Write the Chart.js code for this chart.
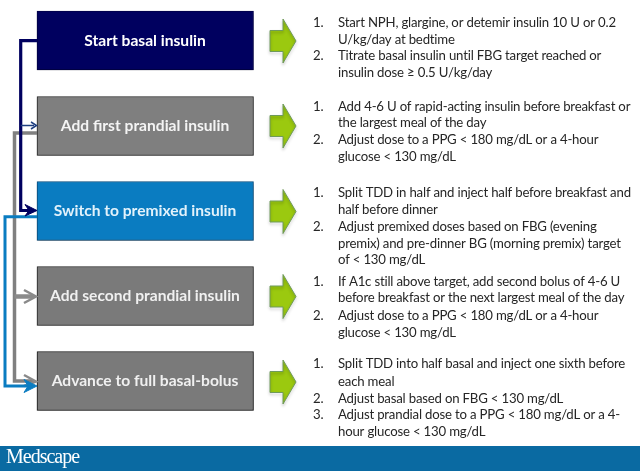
<!DOCTYPE html>
<html><head><meta charset="utf-8">
<style>html,body{margin:0;padding:0;background:#fff}canvas{display:block}</style>
<script src="https://cdn.jsdelivr.net/npm/chart.js@4"></script>
</head><body><canvas id="c" width="640" height="471"></canvas>
<script>
const steps = ["Start basal insulin","Add first prandial insulin","Switch to premixed insulin","Add second prandial insulin","Advance to full basal-bolus"];
const stepCenters = [40.5,126,211,296,381];
const stepColors = ["#00005f","#7f7f7f","#0a7cc1","#7a7a7a","#7a7a7a"];
const stepEdges = ["#000048","#2a2a2a","#0a4f80","#2a2a2a","#1a1a1a"];
const titleColors = ["#ffffff","#f4f4f4","#e2f2fb","#f0f0f0","#f0f0f0"];
const numberLabels = [
 [23,"1."],[56,"2."],[106.5,"1."],[140,"2."],[192.7,"1."],[227,"2."],[281.7,"1."],[315.7,"2."],[364,"1."],[398.3,"2."],[415,"3."]];
const noteLines = [
 [23,"Start NPH, glargine, or detemir insulin 10 U or 0.2"],
 [39.5,"U/kg/day at bedtime"],
 [56,"Titrate basal insulin until FBG target reached or"],
 [72.5,"insulin dose \u2265 0.5 U/kg/day"],
 [106.5,"Add 4-6 U of rapid-acting insulin before breakfast or"],
 [123,"the largest meal of the day"],
 [140,"Adjust dose to a PPG < 180 mg/dL or a 4-hour"],
 [156.5,"glucose < 130 mg/dL"],
 [192.7,"Split TDD in half and inject half before breakfast and"],
 [210,"half before dinner"],
 [227,"Adjust premixed doses based on FBG (evening"],
 [244,"premix) and pre-dinner BG (morning premix) target"],
 [260,"of < 130 mg/dL"],
 [281.7,"If A1c still above target, add second bolus of 4-6 U"],
 [298,"before breakfast or the next largest meal of the day"],
 [315.7,"Adjust dose to a PPG < 180 mg/dL or a 4-hour"],
 [332.3,"glucose < 130 mg/dL"],
 [364,"Split TDD into half basal and inject one sixth before"],
 [381.7,"each meal"],
 [398.3,"Adjust basal based on FBG < 130 mg/dL"],
 [415,"Adjust prandial dose to a PPG < 180 mg/dL or a 4-"],
 [431.7,"hour glucose < 130 mg/dL"]];
const brand = "Medscape";
const greenCenters = [41,126,211.5,296.5,382];
const navyPath = [[37,40.7],[20.7,40.7],[20.7,210.5],[30,210.5]];
const navyBranch = [[20.7,125.5],[34,125.5]];
const navyHeadBig = [[25,204.5],[37,210.5],[25,216],[29,210.5]];
const navyHeadSmall = [[31,122],[36.5,125.5],[31,129]];
const grayPath = [[37,133],[14.5,133],[14.5,381],[33,381]];
const grayBranch = [[14.5,296.5],[34,296.5]];
const grayHeadA = [[24,290],[36,296.5],[24,303]];
const grayHeadB = [[24,375],[36,381.5],[24,386]];
const bluePath = [[37,216.7],[5,216.7],[5,386],[30,386]];
const blueHead = [[24,379.5],[37,386],[24,392.5],[28,386]];
const footer = [[0,446],[640,446],[640,471],[0,471]];
const arrowShape = [[270,-10.5],[283,-10.5],[283,-22],[296,0],[283,22],[283,10.5],[270,10.5]];

const xy = a => a.map(p => ({x:p[0],y:p[1]}));
const stroke = (pts,color,w,order) => ({type:'scatter',showLine:true,data:xy(pts),borderColor:color,borderWidth:w,pointRadius:0,fill:false,tension:0,order,borderJoinStyle:'miter'});
const poly = (pts,fillC,edge,w,order,shadow) => ({type:'scatter',showLine:true,data:xy(pts.concat([pts[0]])),backgroundColor:fillC,borderColor:edge,borderWidth:w,pointRadius:0,fill:'shape',tension:0,order,shadow});

const datasets = [
 stroke(navyBranch,"#1f3f80",1.5,1), stroke(navyHeadSmall,"#1f3f80",1.5,1),
 stroke(navyPath,"#00005f",3.2,1), poly(navyHeadBig,"#00005f","#00005f",1,1),
 stroke(bluePath,"#0a7cc1",3,2), poly(blueHead,"#0a7cc1","#0a7cc1",1,2),
 stroke(grayBranch,"#8a8a8a",4.5,3), stroke(grayHeadA,"#8a8a8a",2.5,3), stroke(grayHeadB,"#8a8a8a",2.5,3),
 stroke(grayPath,"#808080",3.5,3),
 {type:'bar',indexAxis:'y',data:stepCenters.map(c=>({y:c,x:[37,253.5]})),backgroundColor:stepColors,borderColor:stepEdges,borderWidth:1,borderSkipped:false,barThickness:59,order:4,shadow:true},
 ...greenCenters.map(c=>poly(arrowShape.map(p=>[p[0],c+p[1]]),"#9bc90f","#6f9a5c",1,5,true)),
 poly(footer,"#0a6aa2","#0a6aa2",0,6)
];

const textPlugin = {id:'texts',
 beforeDatasetDraw(chart,args){ const d=chart.data.datasets[args.index]; if(d.shadow){const c=chart.ctx;c.save();c.shadowColor='rgba(0,0,0,.3)';c.shadowBlur=3;c.shadowOffsetY=2;} },
 afterDatasetDraw(chart,args){ const d=chart.data.datasets[args.index]; if(d.shadow) chart.ctx.restore(); },
 afterDraw(chart){
  const c=chart.ctx,X=chart.scales.x,Y=chart.scales.y; c.save(); c.textBaseline='middle';
  c.textAlign='center'; c.font='bold 15.6px Lato';
  steps.forEach((s,i)=>{c.fillStyle=titleColors[i];c.fillText(s,X.getPixelForValue(145),Y.getPixelForValue(stepCenters[i]));});
  c.textAlign='left'; c.font='13.2px Lato'; c.letterSpacing='-0.19px'; c.fillStyle='#262626';
  numberLabels.forEach(n=>c.fillText(n[1],X.getPixelForValue(313),Y.getPixelForValue(n[0])));
  noteLines.forEach(n=>c.fillText(n[1],X.getPixelForValue(338),Y.getPixelForValue(n[0])));
  c.font='20px "Liberation Serif"'; c.letterSpacing='-1px'; c.fillStyle='#fff';
  c.fillText(brand,X.getPixelForValue(6),Y.getPixelForValue(458));
  c.restore();
 }};

new Chart(document.getElementById('c'),{
 type:'bar',
 data:{datasets},
 options:{responsive:false,animation:false,devicePixelRatio:1,
  layout:{padding:0},
  plugins:{legend:{display:false},tooltip:{enabled:false},title:{display:false}},
  scales:{
   x:{type:'linear',min:0,max:640,display:false,offset:false},
   y:{type:'linear',min:0,max:471,reverse:true,display:false,offset:false}
  }},
 plugins:[textPlugin]
});
</script></body></html>
